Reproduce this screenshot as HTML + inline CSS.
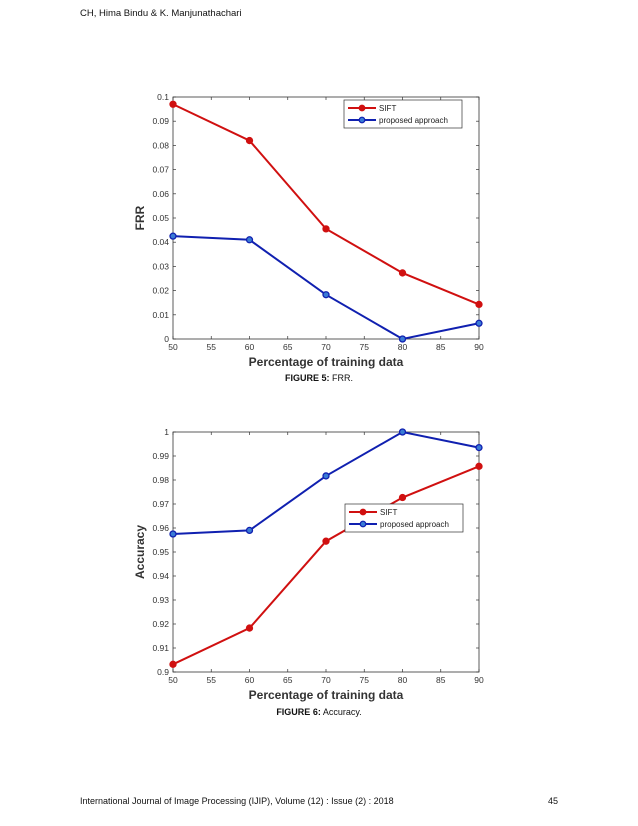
<!DOCTYPE html>
<html><head><meta charset="utf-8"><style>
body{margin:0;background:#fff;width:638px;height:826px;overflow:hidden;font-family:"Liberation Sans",sans-serif}
svg{position:absolute;left:0;top:0}
</style></head><body>
<svg id="s" width="638" height="826" xmlns="http://www.w3.org/2000/svg" font-family="Liberation Sans, sans-serif">
<text x="80" y="16" font-size="9.5" fill="#111">CH, Hima Bindu &amp; K. Manjunathachari</text>
<text x="319" y="381" font-size="9" text-anchor="middle" fill="#111"><tspan font-weight="bold">FIGURE 5:</tspan> FRR.</text>
<text x="319" y="715" font-size="9" text-anchor="middle" fill="#111"><tspan font-weight="bold">FIGURE 6:</tspan> Accuracy.</text>
<text x="80" y="804" font-size="9" fill="#111">International Journal of Image Processing (IJIP), Volume (12) : Issue (2) : 2018</text>
<text x="558" y="804" font-size="9" text-anchor="end" fill="#111">45</text>
<g id="c1"></g><g id="c2"></g>
</svg>
<script>
const xCats=[50,60,70,80,90];
const xTicks=[50,55,60,65,70,75,80,85,90];
const frrSift=[0.097,0.082,0.0455,0.0273,0.0143];
const frrProp=[0.0425,0.041,0.0183,0,0.0065];
const frrTicks=[0,0.01,0.02,0.03,0.04,0.05,0.06,0.07,0.08,0.09,0.1];
const accSift=[0.9032,0.9183,0.9545,0.9727,0.9857];
const accProp=[0.9575,0.959,0.9817,1,0.9935];
const accTicks=[0.9,0.91,0.92,0.93,0.94,0.95,0.96,0.97,0.98,0.99,1];
const NS="http://www.w3.org/2000/svg";
function mk(p,t,a){const e=document.createElementNS(NS,t);for(const k in a)e.setAttribute(k,a[k]);p.appendChild(e);return e;}
function chart(g,L,R,T,B,yMin,yMax,yTicks,yLabel,sift,prop,leg,id){
 const xs=v=>L+(v-50)/40*(R-L), ys=v=>B-(v-yMin)/(yMax-yMin)*(B-T);
 const box=mk(g,'rect',{x:L,y:T,width:R-L,height:B-T,fill:'#fff',stroke:'#333','stroke-width':0.8});
 
 
 xTicks.forEach(v=>{const x=xs(v);
  mk(g,'line',{x1:x,x2:x,y1:B,y2:B-3,stroke:'#333','stroke-width':0.7});
  mk(g,'line',{x1:x,x2:x,y1:T,y2:T+3,stroke:'#333','stroke-width':0.7});
  const t=mk(g,'text',{x:x,y:B+11,'font-size':8.5,'text-anchor':'middle',fill:'#333'});t.textContent=v;
  
  });
 yTicks.forEach(v=>{const y=ys(v);
  mk(g,'line',{x1:L,x2:L+3,y1:y,y2:y,stroke:'#333','stroke-width':0.7});
  mk(g,'line',{x1:R,x2:R-3,y1:y,y2:y,stroke:'#333','stroke-width':0.7});
  const t=mk(g,'text',{x:L-4,y:y+3,'font-size':8.5,'text-anchor':'end',fill:'#333'});t.textContent=String(+v.toFixed(2)).replace(/^0(?=\.)/, '0');
  
  });
 const xt=mk(g,'text',{x:(L+R)/2,y:B+27,'font-size':12,'font-weight':'bold','text-anchor':'middle',fill:'#333'});xt.textContent='Percentage of training data';
 
 
 const yt=mk(g,'text',{x:0,y:0,'font-size':12,'font-weight':'bold','text-anchor':'middle',fill:'#333',transform:`translate(${L-29},${(T+B)/2}) rotate(-90)`});yt.textContent=yLabel;
 
 
 [[sift,'#d01010','sift'],[prop,'#1020b0','proposed']].forEach(([d,c,n])=>{
  const pl=mk(g,'polyline',{points:d.map((v,i)=>xs(xCats[i])+','+ys(v)).join(' '),fill:'none',stroke:c,'stroke-width':2});
  
  
  d.forEach((v,i)=>{const m=mk(g,'circle',{cx:xs(xCats[i]),cy:ys(v),r:3,fill:n=='sift'?c:'#3a7bd5',stroke:c,'stroke-width':1.3});
   
   });
 });
 const lg=mk(g,'g',{});
 
 
 mk(lg,'rect',{x:leg[0],y:leg[1],width:118,height:28,fill:'#fff',stroke:'#333','stroke-width':0.7});
 [['SIFT','#d01010','#d01010'],['proposed approach','#1020b0','#3a7bd5']].forEach(([s,c,f],i)=>{
  const y=leg[1]+8+i*12;
  mk(lg,'line',{x1:leg[0]+4,x2:leg[0]+32,y1:y,y2:y,stroke:c,'stroke-width':2});
  mk(lg,'circle',{cx:leg[0]+18,cy:y,r:2.8,fill:f,stroke:c,'stroke-width':1.2});
  const t=mk(lg,'text',{x:leg[0]+35,y:y+3,'font-size':8,fill:'#222'});t.textContent=s;
  
  });
}
chart(document.getElementById('c1'),173,479,97,339,0,0.1,frrTicks,'FRR',frrSift,frrProp,[344,100],'frr');
chart(document.getElementById('c2'),173,479,432,672,0.9,1,accTicks,'Accuracy',accSift,accProp,[345,504],'accuracy');
</script>
</body></html>
